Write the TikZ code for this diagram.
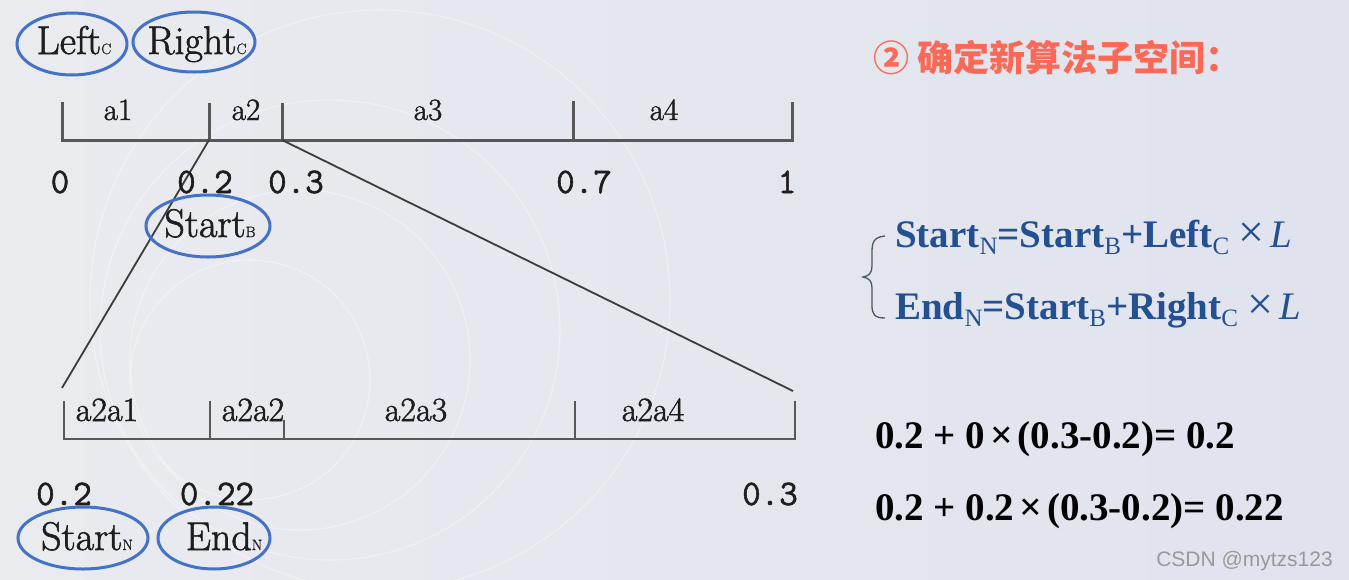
\documentclass[tikz,border=0pt]{standalone}
\usepackage{fontspec}
\usetikzlibrary{shapes.geometric}
\newfontfamily\cjk{Noto Sans CJK SC}
\newfontfamily\tnr{Liberation Serif}
\newfontfamily\wmfont{Liberation Sans}
\newfontfamily\lmrb{Latin Modern Roman}[FakeBold=1.5]
\newfontfamily\lmtb{Latin Modern Mono}[FakeBold=1.5]
\definecolor{ovalblue}{RGB}{68,114,196}
\definecolor{rulegray}{RGB}{88,88,88}
\definecolor{linkgray}{RGB}{60,60,60}
\definecolor{txtgray}{RGB}{30,30,30}
\definecolor{coral}{RGB}{250,105,85}
\definecolor{fblue}{RGB}{35,80,145}
\definecolor{bgL}{RGB}{234,235,239}
\definecolor{bgR}{RGB}{224,227,238}
\newcommand{\subc}[1]{{\fontsize{15}{15}\selectfont #1}}
\newcommand{\fsub}[1]{\raisebox{-7pt}{\fontsize{25}{25}\selectfont\mdseries #1}}
\newcommand{\ftimes}{\hspace{9pt}{\mdseries\fontsize{46}{46}\selectfont ×}\hspace{6pt}}
\newcommand{\ktimes}{\hspace{5pt}{\fontsize{40}{40}\selectfont ×}\hspace{5pt}}
\begin{document}
\begin{tikzpicture}[x=1pt,y=-1pt,
  oval/.style={draw=ovalblue, line width=3pt, ellipse, inner sep=0pt},
  ruler/.style={draw=rulegray, line width=3pt},
  rulerb/.style={draw=rulegray, line width=2.6pt},
  link/.style={draw=linkgray, line width=1.8pt},
  word/.style={text=txtgray, inner sep=0pt, anchor=base, font=\lmrb\fontsize{40}{40}\selectfont},
  seglab/.style={text=txtgray, inner sep=0pt, anchor=base, font=\lmrb\fontsize{31}{31}\selectfont},
  seglabb/.style={text=txtgray, inner sep=0pt, anchor=base, font=\lmrb\fontsize{34}{34}\selectfont},
  num/.style={text=txtgray, inner sep=0pt, anchor=base, font=\lmtb\fontsize{36}{36}\selectfont},
  fml/.style={text=fblue, inner sep=0pt, anchor=base west, font=\tnr\bfseries\fontsize{39}{39}\selectfont},
  calc/.style={text=black, inner sep=0pt, anchor=base west, font=\tnr\bfseries\fontsize{39}{39}\selectfont}]
% background
\shade[left color=bgL, right color=bgR] (0,0) rectangle (1349,579);
\useasboundingbox (0,0) rectangle (1349,579);
% faint decorative arcs
\begin{scope}[draw=white, opacity=0.35, line width=1.2pt]
  \draw (330,330) circle [radius=230];
  \draw (300,360) circle [radius=170];
  \draw (380,300) circle [radius=290];
  \draw (250,380) circle [radius=120];
\end{scope}
% top ruler
\coordinate (t0) at (62,140);
\coordinate (t2) at (209,140);
\coordinate (t3) at (282,140);
\coordinate (t7) at (573,140);
\coordinate (t1) at (792,140);
\draw[ruler] (62,102) -- (t0) -- (t1) -- (792,102);
\draw[ruler] (t2) -- (209,103);
\draw[ruler] (t3) -- (282,103);
\draw[ruler] (t7) -- (573,101);
% bottom ruler
\coordinate (b0) at (64,439);
\coordinate (b22) at (210,439);
\coordinate (bx) at (284,439);
\coordinate (b7) at (575,439);
\coordinate (b1) at (795,439);
\draw[rulerb] (64,401) -- (b0) -- (b1) -- (795,401);
\draw[rulerb] (b22) -- (210,401);
\draw[rulerb] (bx) -- (284,420);
\draw[rulerb] (b7) -- (575,401);
% connectors
\coordinate (c1) at (62,388);
\coordinate (c2) at (793,391);
\draw[link] (t2) -- (c1);
\draw[link] (t3) -- (c2);
% top segment labels
\node[seglab] (la1) at (118,120) {a1};
\node[seglab] (la2) at (246,120) {a2};
\node[seglab] (la3) at (428,120) {a3};
\node[seglab] (la4) at (664,120) {a4};
% top numbers
\node[num] (n0) at (60,193) {0};
\node[num] (n02) at (205,193) {0.2};
\node[num] (n03) at (296,193) {0.3};
\node[num] (n07) at (584,193) {0.7};
\node[num] (n1) at (787,193) {1};
% bottom segment labels
\node[seglabb] (lb1) at (107,421) {a2a1};
\node[seglabb] (lb2) at (253,421) {a2a2};
\node[seglabb] (lb3) at (416,421) {a2a3};
\node[seglabb] (lb4) at (653,421) {a2a4};
% bottom numbers
\node[num] (m02) at (64,505) {0.2};
\node[num] (m022) at (217,505) {0.22};
\node[num] (m03) at (770,505) {0.3};
% circled words
\node[oval, minimum width=110, minimum height=62] (eL) at (72,44) {};
\node[word] (wL) at (74,54) {Left\subc{C}};
\node[oval, minimum width=122, minimum height=60] (eR) at (194,42) {};
\node[word] (wR) at (197,54) {Right\subc{C}};
\node[oval, minimum width=124, minimum height=62] (eSB) at (208,226) {};
\node[word] (wSB) at (210,237) {Start\subc{B}};
\node[oval, minimum width=130, minimum height=62] (eSN) at (83,538) {};
\node[word] (wSN) at (87,550) {Start\subc{N}};
\node[oval, minimum width=112, minimum height=62] (eEN) at (214,538) {};
\node[word] (wEN) at (224,550) {End\subc{N}};
% title
\node[text=coral, inner sep=0pt, anchor=west, font=\cjk\bfseries\fontsize{36}{36}\selectfont] (title) at (873,58) {② 确定新算法子空间：};
% brace
\draw[draw=rulegray!70!fblue, line width=1.3pt] (885,236) .. controls (874,237) and (872,242) .. (872,252) -- (872,266) .. controls (872,273) and (869,276) .. (863,277) .. controls (869,278) and (872,281) .. (872,288) -- (872,305) .. controls (872,314) and (874,318) .. (885,318);
% formulas
\node[fml] (f1) at (895,247) {Start\fsub{N}=Start\fsub{B}+Left\fsub{C}\ftimes{\mdseries\itshape L}};
\node[fml] (f2) at (895,319) {End\fsub{N}=Start\fsub{B}+Right\fsub{C}\ftimes{\mdseries\itshape L}};
\node[calc] (k1) at (875,448) {0.2 + 0\ktimes(0.3-0.2)= 0.2};
\node[calc] (k2) at (875,520) {0.2 + 0.2\ktimes(0.3-0.2)= 0.22};
% watermark
\node[text=gray!80, inner sep=0pt, anchor=base east, font=\wmfont\fontsize{21}{21}\selectfont] (wm) at (1333,566) {CSDN @mytzs123};
\end{tikzpicture}
\end{document}
